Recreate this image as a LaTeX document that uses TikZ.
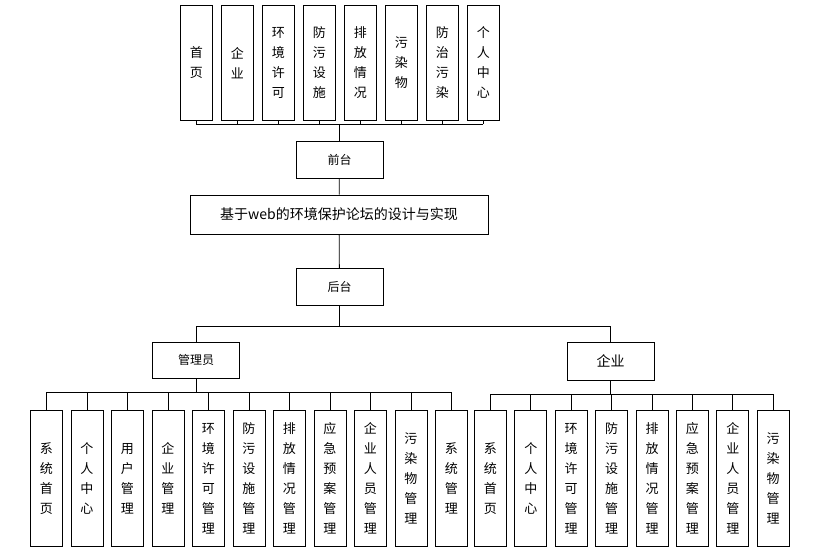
\documentclass[tikz,border=0pt]{standalone}
\usepackage{fontspec}
\newfontfamily\cjk{Noto Sans CJK SC}
\begin{document}
\begin{tikzpicture}[x=1pt,y=-1pt,line width=0.8pt,
  vbox/.style={draw,minimum width=32pt,minimum height=#1,align=center,inner sep=0pt,font=\cjk\fontsize{13}{20}\selectfont},
  hbox/.style={draw,minimum width=87pt,minimum height=37pt,font=\cjk\fontsize{12}{14}\selectfont}]
\useasboundingbox (0,0) rectangle (818,553);
% top
\foreach \t [count=\i] in {首\\页,企\\业,环\\境\\许\\可,防\\污\\设\\施,排\\放\\情\\况,污\\染\\物,防\\治\\污\\染,个\\人\\中\\心}{
  \node[vbox=115pt,anchor=north west] (t\i) at ({180+41*(\i-1)},5) {\t};
}
\node[hbox] (qt) at (339.5,159.5) {前台};
\node[draw,minimum width=298pt,minimum height=39pt,font=\cjk\fontsize{14}{16}\selectfont] (main) at (339,214.5) {基于web的环境保护论坛的设计与实现};
\node[hbox] (ht) at (339.5,287) {后台};
\coordinate (tj) at (339.5,124);
\foreach \i in {1,...,8}{\draw (t\i.south) -- (t\i.south |- tj);}
\draw (t1.south |- tj) -- (t8.south |- tj);
\draw (tj) -- (qt.north);
\draw (qt) -- (main);
\draw (main) -- (ht);
\node[hbox,minimum height=36pt] (gl) at (196,360) {管理员};
\node[hbox,minimum height=38pt,font=\cjk\fontsize{14}{16}\selectfont] (qy) at (610.5,361) {企业};
\coordinate (hj) at (339.5,326);
\draw (ht.south) -- (hj);
\draw (gl.north |- hj) -- (qy.north |- hj);
\draw (gl.north |- hj) -- (gl.north);
\draw (qy.north |- hj) -- (qy.north);
% bottom left
\foreach \t [count=\i] in {系\\统\\首\\页,个\\人\\中\\心,用\\户\\管\\理,企\\业\\管\\理,环\\境\\许\\可\\管\\理,防\\污\\设\\施\\管\\理,排\\放\\情\\况\\管\\理,应\\急\\预\\案\\管\\理,企\\业\\人\\员\\管\\理,污\\染\\物\\管\\理,系\\统\\管\\理}{
  \node[vbox=136pt,anchor=north west] (l\i) at ({30+40.5*(\i-1)},410) {\t};
}
\coordinate (lj) at (196,392);
\foreach \i in {1,...,11}{\draw (l\i.north) -- (l\i.north |- lj);}
\draw (l1.north |- lj) -- (l11.north |- lj);
\draw (gl.south) -- (lj);
% bottom right
\foreach \t [count=\i] in {系\\统\\首\\页,个\\人\\中\\心,环\\境\\许\\可\\管\\理,防\\污\\设\\施\\管\\理,排\\放\\情\\况\\管\\理,应\\急\\预\\案\\管\\理,企\\业\\人\\员\\管\\理,污\\染\\物\\管\\理}{
  \node[vbox=136pt,anchor=north west] (r\i) at ({474+40.4*(\i-1)},410) {\t};
}
\coordinate (rj) at (610.5,394);
\foreach \i in {1,...,8}{\draw (r\i.north) -- (r\i.north |- rj);}
\draw (r1.north |- rj) -- (r8.north |- rj);
\draw (qy.south) -- (rj);
\end{tikzpicture}
\end{document}
